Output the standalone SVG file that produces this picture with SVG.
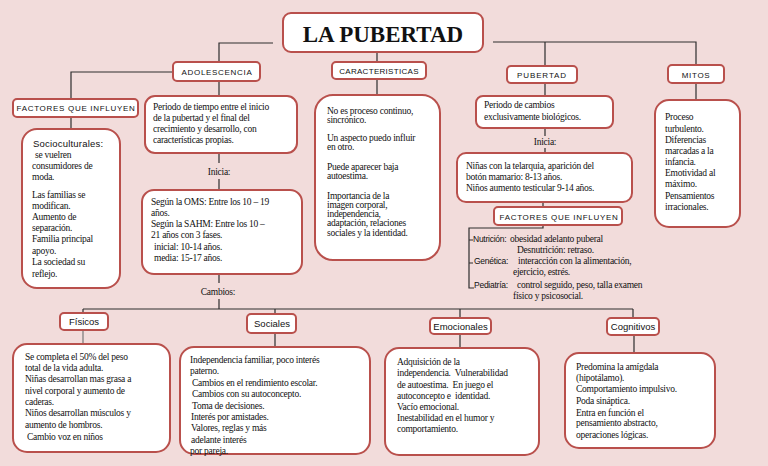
<svg xmlns="http://www.w3.org/2000/svg" width="768" height="466" viewBox="0 0 768 466">
<style>
.bg{fill:#f2dcdb}
.box{fill:#ffffff;stroke:#b9504c;stroke-width:2}
.ln{fill:none;stroke:#2e2e2e;stroke-width:1.2}
.t{font-family:"Liberation Serif","Times New Roman",serif;font-size:9.5px;letter-spacing:-0.25px;fill:#111}
.lbl{font-family:"Liberation Sans",Arial,sans-serif;font-size:8px;letter-spacing:0.7px;fill:#111;text-anchor:middle}
.sub{font-family:"Liberation Sans",Arial,sans-serif;font-size:9.5px;fill:#111;text-anchor:middle}
.soc{font-family:"Liberation Sans",Arial,sans-serif;font-size:9.5px;letter-spacing:0.2px;fill:#111}
.s{font-family:"Liberation Sans",Arial,sans-serif;font-size:8.5px;fill:#111}
.title{font-family:"Liberation Serif","Times New Roman",serif;font-size:23px;font-weight:bold;fill:#111;text-anchor:middle}
</style>
<rect class="bg" x="0" y="0" width="768" height="466"/>

<g id="connectors">
<path class="ln" d="M273,43 H219 V62"/>
<path class="ln" d="M173,72 H71 V99"/>
<path class="ln" d="M71,117 V129"/>
<path class="ln" d="M219,81 V96"/>
<path class="ln" d="M219,153 V163 M219,179 V190"/>
<path class="ln" d="M219,274 V283 M219,299 V309"/>
<path class="ln" d="M83,309 H633"/>
<path class="ln" d="M83,309 V313"/>
<path class="ln" d="M83,330 V344" style="stroke:#777"/>
<path class="ln" d="M275,309 V314 M275,333 V347"/>
<path class="ln" d="M460,309 V318 M460,334 V348"/>
<path class="ln" d="M633,309 V318 M634,335 V353"/>
<path class="ln" d="M377,52 V62 M377,79 V95"/>
<path class="ln" d="M493,42 H696 V65"/>
<path class="ln" d="M545,42 V66 M545,83 V96"/>
<path class="ln" d="M545,128 V136 M545,148 V153"/>
<path class="ln" d="M543,202 V207"/>
<path class="ln" d="M543,225 V228 H469 V288 H474 M469,240 H473 M469,263 H473"/>
<path class="ln" d="M696,83 V100"/>
</g>

<g id="title">
<rect class="box" x="283" y="13" width="200" height="39" rx="8"/>
<text class="title" x="383" y="42">LA PUBERTAD</text>
</g>

<g id="adolescencia">
<rect class="box" x="173" y="62" width="87" height="19" rx="4"/>
<text class="lbl" x="217" y="74.5">ADOLESCENCIA</text>
</g>

<g id="factores1">
<rect class="box" x="13" y="99" width="125" height="18" rx="4"/>
<text class="lbl" x="76" y="111">FACTORES QUE INFLUYEN</text>
</g>

<g id="socioculturales">
<rect class="box" x="22" y="129" width="98" height="159" rx="15"/>
<text class="soc" x="33" y="147">Socioculturales:</text>
<text class="t" x="35" y="158"> se vuelren</text>
<text class="t" x="32" y="169">consumidores de</text>
<text class="t" x="32" y="180">moda.</text>
<text class="t" x="32" y="198">Las familias se</text>
<text class="t" x="32" y="209">modifican.</text>
<text class="t" x="32" y="220">Aumento de</text>
<text class="t" x="32" y="231">separación.</text>
<text class="t" x="32" y="242">Familia principal</text>
<text class="t" x="32" y="254">apoyo.</text>
<text class="t" x="32" y="265">La sociedad su</text>
<text class="t" x="32" y="277">reflejo.</text>
</g>

<g id="adol-periodo">
<rect class="box" x="145" y="96" width="152" height="57" rx="10"/>
<text class="t" x="153" y="110">Periodo de tiempo entre el inicio</text>
<text class="t" x="153" y="121">de la pubertad y el final del</text>
<text class="t" x="153" y="132">crecimiento y desarrollo, con</text>
<text class="t" x="153" y="143">características propias.</text>
</g>

<text id="inicia1" class="t" x="219" y="175" style="text-anchor:middle">Inicia:</text>

<g id="segun">
<rect class="box" x="142" y="190" width="160" height="84" rx="12"/>
<text class="t" x="151" y="205">Según la OMS: Entre los 10 – 19</text>
<text class="t" x="151" y="216">años.</text>
<text class="t" x="151" y="227">Según la SAHM: Entre los 10 –</text>
<text class="t" x="151" y="238">21 años con 3 fases.</text>
<text class="t" x="154" y="250">inicial: 10-14 años.</text>
<text class="t" x="154" y="261">media: 15-17 años.</text>
</g>

<text id="cambios" class="t" x="218" y="295" style="text-anchor:middle">Cambios:</text>

<g id="caracteristicas">
<rect class="box" x="332" y="62" width="94" height="17" rx="4"/>
<text class="lbl" x="379" y="73.5" style="letter-spacing:0.3px">CARACTERISTICAS</text>
</g>

<g id="caract-content">
<rect class="box" x="315" y="95" width="125" height="165" rx="18"/>
<text class="t" x="327" y="114">No es proceso continuo,</text>
<text class="t" x="327" y="123">sincrónico.</text>
<text class="t" x="327" y="141">Un aspecto puedo influir</text>
<text class="t" x="327" y="150">en otro.</text>
<text class="t" x="327" y="170">Puede aparecer baja</text>
<text class="t" x="327" y="179">autoestima.</text>
<text class="t" x="327" y="199">Importancia de la</text>
<text class="t" x="327" y="208">imagen corporal,</text>
<text class="t" x="327" y="217">independencia,</text>
<text class="t" x="327" y="226">adaptación, relaciones</text>
<text class="t" x="327" y="236">sociales y la identidad.</text>
</g>

<g id="pubertad">
<rect class="box" x="507" y="66" width="70" height="17" rx="4"/>
<text class="lbl" x="542" y="78" style="letter-spacing:0.9px">PUBERTAD</text>
</g>

<g id="pub-periodo">
<rect class="box" x="476" y="96" width="137" height="32" rx="7"/>
<text class="t" x="484" y="108">Periodo de cambios</text>
<text class="t" x="484" y="120">exclusivamente biológicos.</text>
</g>

<text id="inicia2" class="t" x="545" y="145" style="text-anchor:middle">Inicia:</text>

<g id="ninas">
<rect class="box" x="457" y="153" width="175" height="49" rx="9"/>
<text class="t" x="466" y="169">Niñas con la telarquia, aparición del</text>
<text class="t" x="466" y="180">botón mamario: 8-13 años.</text>
<text class="t" x="466" y="191">Niños aumento testicular 9-14 años.</text>
</g>

<g id="factores2">
<rect class="box" x="494" y="207" width="128" height="18" rx="4"/>
<text class="lbl" x="559" y="219.5">FACTORES QUE INFLUYEN</text>
</g>

<g id="factores2-list">
<text class="t" x="473" y="242"><tspan class="s">Nutrición: </tspan><tspan x="510">obesidad adelanto puberal</tspan></text>
<text class="t" x="517" y="253">Desnutrición: retraso.</text>
<text class="t" x="474" y="264"><tspan class="s">Genética: </tspan><tspan x="518">interacción con la alimentación,</tspan></text>
<text class="t" x="513" y="275">ejercicio, estrés.</text>
<text class="t" x="474" y="288"><tspan class="s">Pediatría: </tspan><tspan x="517">control seguido, peso, talla examen</tspan></text>
<text class="t" x="513" y="299">físico y psicosocial.</text>
</g>

<g id="mitos">
<rect class="box" x="668" y="65" width="56" height="18" rx="4"/>
<text class="lbl" x="696" y="77.5">MITOS</text>
</g>

<g id="mitos-content">
<rect class="box" x="655" y="100" width="85" height="127" rx="14"/>
<text class="t" x="665" y="120">Proceso</text>
<text class="t" x="665" y="132">turbulento.</text>
<text class="t" x="665" y="143">Diferencias</text>
<text class="t" x="665" y="154">marcadas a la</text>
<text class="t" x="665" y="165">infancia.</text>
<text class="t" x="665" y="176">Emotividad al</text>
<text class="t" x="665" y="187">máximo.</text>
<text class="t" x="665" y="199">Pensamientos</text>
<text class="t" x="665" y="210">irracionales.</text>
</g>

<g id="fisicos">
<rect class="box" x="60" y="313" width="48" height="17" rx="4"/>
<text class="sub" x="84" y="325">Físicos</text>
</g>

<g id="fisicos-content">
<rect class="box" x="13" y="344" width="157" height="108" rx="14"/>
<text class="t" x="25" y="360">Se completa el 50% del peso</text>
<text class="t" x="25" y="371">total de la vida adulta.</text>
<text class="t" x="25" y="382">Niñas desarrollan mas grasa a</text>
<text class="t" x="25" y="394">nivel corporal y aumento de</text>
<text class="t" x="25" y="405">caderas.</text>
<text class="t" x="25" y="416">Niños desarrollan músculos y</text>
<text class="t" x="25" y="428">aumento de hombros.</text>
<text class="t" x="27" y="440">Cambio voz en niños</text>
</g>

<g id="sociales">
<rect class="box" x="247" y="314" width="49" height="19" rx="4"/>
<text class="sub" x="272" y="327">Sociales</text>
</g>

<g id="sociales-content">
<rect class="box" x="180" y="347" width="190" height="107" rx="14"/>
<text class="t" x="190" y="363">Independencia familiar, poco interés</text>
<text class="t" x="190" y="374">paterno.</text>
<text class="t" x="192" y="386">Cambios en el rendimiento escolar.</text>
<text class="t" x="192" y="397">Cambios con su autoconcepto.</text>
<text class="t" x="192" y="409">Toma de decisiones.</text>
<text class="t" x="191" y="420">Interés por amistades.</text>
<text class="t" x="191" y="431">Valores, reglas y más</text>
<text class="t" x="191" y="443">adelante interés</text>
<text class="t" x="190" y="454">por pareja.</text>
</g>

<g id="emocionales">
<rect class="box" x="430" y="318" width="61" height="16" rx="4"/>
<text class="sub" x="460.5" y="329.5">Emocionales</text>
</g>

<g id="emocionales-content">
<rect class="box" x="385" y="348" width="154" height="107" rx="14"/>
<text class="t" x="397" y="365">Adquisición de la</text>
<text class="t" x="397" y="376" xml:space="preserve">independencia.  Vulnerabilidad</text>
<text class="t" x="397" y="388" xml:space="preserve">de autoestima.  En juego el</text>
<text class="t" x="397" y="399" xml:space="preserve">autoconcepto e  identidad.</text>
<text class="t" x="397" y="410">Vacío emocional.</text>
<text class="t" x="397" y="421">Inestabilidad en el humor y</text>
<text class="t" x="397" y="432">comportamiento.</text>
</g>

<g id="cognitivos">
<rect class="box" x="607" y="318" width="52" height="17" rx="4"/>
<text class="sub" x="633" y="330">Cognitivos</text>
</g>

<g id="cognitivos-content">
<rect class="box" x="565" y="353" width="150" height="95" rx="14"/>
<text class="t" x="576" y="370">Predomina la amígdala</text>
<text class="t" x="576" y="381">(hipotálamo).</text>
<text class="t" x="576" y="392">Comportamiento impulsivo.</text>
<text class="t" x="576" y="404">Poda sináptica.</text>
<text class="t" x="576" y="416">Entra en función el</text>
<text class="t" x="576" y="426">pensamiento abstracto,</text>
<text class="t" x="576" y="438">operaciones lógicas.</text>
</g>
</svg>
